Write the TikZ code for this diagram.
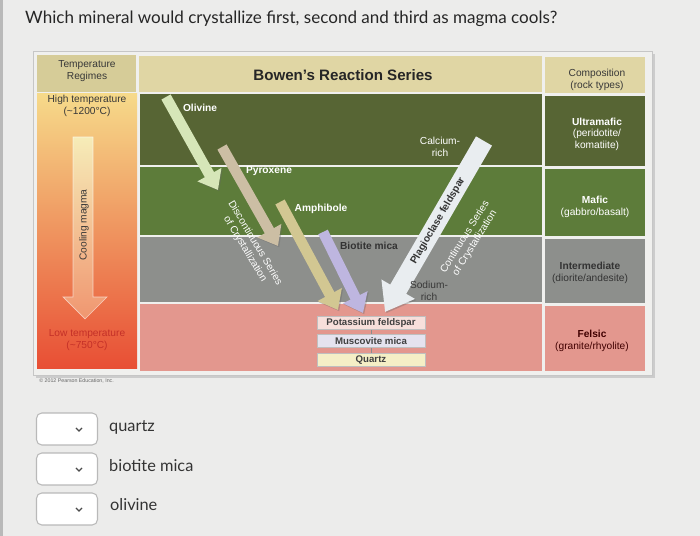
\documentclass[tikz,border=0pt]{standalone}
\usepackage{fontspec}
\setsansfont{Liberation Sans}
\newfontfamily\qfont{Lato}
\usetikzlibrary{arrows.meta,positioning,calc}
\definecolor{pagebg}{RGB}{236,236,235}
\definecolor{panelbg}{RGB}{240,240,238}
\definecolor{hdr}{RGB}{224,214,164}
\definecolor{hdrdk}{RGB}{214,204,152}
\definecolor{oliveband}{RGB}{87,101,52}
\definecolor{greenband}{RGB}{93,124,58}
\definecolor{grayband}{RGB}{141,143,140}
\definecolor{pinkband}{RGB}{227,151,142}
\definecolor{hiyel}{RGB}{246,218,138}
\definecolor{midor}{RGB}{241,158,92}
\definecolor{lored}{RGB}{232,78,52}
\definecolor{lowtxt}{RGB}{196,48,40}
\definecolor{olvC}{RGB}{214,230,184}
\definecolor{pyxC}{RGB}{204,190,164}
\definecolor{amphC}{RGB}{210,199,146}
\definecolor{bioC}{RGB}{190,182,224}
\definecolor{plgC}{RGB}{233,237,240}
\definecolor{kfsC}{RGB}{247,223,219}
\definecolor{musC}{RGB}{229,227,239}
\definecolor{qtzC}{RGB}{245,239,198}
\definecolor{coolTop}{RGB}{246,236,184}
\definecolor{coolBot}{RGB}{240,150,112}
\begin{document}
\begin{tikzpicture}[x=0.02cm,y=-0.02cm,font=\sffamily,
sm/.style={font=\sffamily\fontsize{5.8}{6.6}\selectfont,align=center,inner sep=0pt,text=black!78},
wb/.style={sm,font=\sffamily\bfseries\fontsize{5.8}{6.6}\selectfont,text=white},
db/.style={wb,text=black!80},
minarr/.style={line width=6pt,-{Triangle[length=10pt,width=15pt]},
  preaction={draw=black!60,opacity=.35,transform canvas={shift={(0.7pt,-0.7pt)}}}},
mbox/.style={draw=black!25,minimum width=2.16cm,minimum height=0.26cm,inner sep=0pt,
  font=\sffamily\bfseries\fontsize{5.5}{6}\selectfont,text=black!75},
dd/.style={draw=gray!55,fill=white,rounded corners=3pt,line width=0.6pt,minimum width=1.22cm,minimum height=0.64cm},
ans/.style={anchor=west,font=\qfont\fontsize{9.3}{11}\selectfont,text=black!80}]
\useasboundingbox (0,0) rectangle (700,536);
\fill[pagebg] (0,0) rectangle (700,536);
\fill[gray!55] (0,0) rectangle (3,536);
\node[anchor=west,font=\qfont\fontsize{9.7}{11}\selectfont,text=black!85] (q) at (19,19) {Which mineral would crystallize first, second and third as magma cools?};
% chart
\fill[black!20] (36,54) rectangle (655,378);
\filldraw[fill=panelbg,draw=gray!45] (33,51) rectangle (652,375);
\fill[hdrdk] (37,55) rectangle (136,92);
\fill[hdr] (139,56) rectangle (542,92);
\fill[hdr] (545,57) rectangle (645,93);
\shade[top color=hiyel,middle color=midor,bottom color=lored] (37,94) rectangle (137,369);
\fill[oliveband] (140,94) rectangle (542,165);
\fill[greenband] (140,167) rectangle (542,235);
\fill[grayband] (140,237) rectangle (542,302);
\fill[pinkband] (140,304) rectangle (542,371);
\fill[oliveband] (545,96) rectangle (645,166);
\fill[greenband] (545,169) rectangle (645,236);
\fill[grayband] (545,239) rectangle (645,303);
\fill[pinkband] (545,306) rectangle (645,371);
\node[sm] (tr) at (87,71) {Temperature\\Regimes};
\node[sm,font=\sffamily\bfseries\fontsize{8.6}{10}\selectfont,text=black!85] (brs) at (343,75) {Bowen's Reaction Series};
\node[sm] (comp) at (597,80) {Composition\\(rock types)};
\node[sm] (hot) at (87,106) {High temperature\\(\textasciitilde1200°C)};
\shade[top color=coolTop,bottom color=coolBot,draw=white,draw opacity=.6]
  (73,137) -- (93,137) -- (93,297) -- (107,297) -- (85,319) -- (63,297) -- (73,297) -- cycle;
\node[sm,rotate=90] (cool) at (84,225) {Cooling magma};
\node[sm,text=lowtxt] (cold) at (87,340) {Low temperature\\(\textasciitilde750°C)};
% mineral arrows
\coordinate (olA) at (166,97); \coordinate (olB) at (218,190);
\coordinate (pyA) at (222,147); \coordinate (pyB) at (278,246);
\coordinate (amA) at (280,202); \coordinate (amB) at (338,310);
\coordinate (biA) at (323,232); \coordinate (biB) at (363,313);
\coordinate (plA) at (484,141); \coordinate (plB) at (385,312);
\draw[minarr,olvC] (olA) -- (olB);
\draw[minarr,pyxC] (pyA) -- (pyB);
\draw[minarr,amphC] (amA) -- (amB);
\draw[minarr,bioC] (biA) -- (biB);
\draw[minarr,plgC,line width=10.5pt,-{Triangle[length=15pt,width=21pt]}] (plA) -- (plB);
\node[wb] (ol) at (200,108) {Olivine};
\node[wb] (py) at (269,171) {Pyroxene};
\node[wb] (am) at (321,209) {Amphibole};
\node[db] (bi) at (369,246) {Biotite mica};
\node[db,rotate=60] (pl) at (438,221) {Plagioclase feldspar};
\node[sm,text=white] (ca) at (440,147) {Calcium-\\rich};
\node[sm] (na) at (429,291) {Sodium-\\rich};
\node[sm,text=white,rotate=-59] (dis) at (250,246) {Discontinuous Series\\of Crystallization};
\node[sm,text=white,rotate=58] (con) at (470,240) {Continuous Series\\of Crystallization};
\node[mbox,fill=kfsC] (kfs) at (371,323) {Potassium feldspar};
\node[mbox,fill=musC] (mus) at (371,341) {Muscovite mica};
\node[mbox,fill=qtzC] (qtz) at (371,360) {Quartz};
\draw[black!45,line width=0.4pt] (kfs) -- (mus);
\draw[black!45,line width=0.4pt] (mus) -- (qtz);
\node[wb] (um) at (597,134) {Ultramafic\\\mdseries(peridotite/\\\mdseries komatiite)};
\node[wb] (mf) at (595,207) {Mafic\\\mdseries(gabbro/basalt)};
\node[db] (im) at (590,273) {Intermediate\\\mdseries(diorite/andesite)};
\node[db,text=black!75!red] (fs) at (592,341) {Felsic\\\mdseries(granite/rhyolite)};
\node[anchor=west,font=\sffamily\fontsize{3}{3}\selectfont,text=black!60,inner sep=0pt] (cpy) at (39,381) {© 2012 Pearson Education, Inc.};
% answer list
\node[dd] (dd1) at (67,429) {};
\node[dd] (dd2) at (67,469) {};
\node[dd] (dd3) at (67,509) {};
\foreach \d in {dd1,dd2,dd3}
  \draw[black!70,line width=0.7pt] ($(\d.center)+(9,-1)$) -- ++(3,3) -- ++(3,-3);
\node[ans] (a1) at (103,427) {quartz};
\node[ans] (a2) at (103,466) {biotite mica};
\node[ans] (a3) at (104,505) {olivine};
\end{tikzpicture}
\end{document}
